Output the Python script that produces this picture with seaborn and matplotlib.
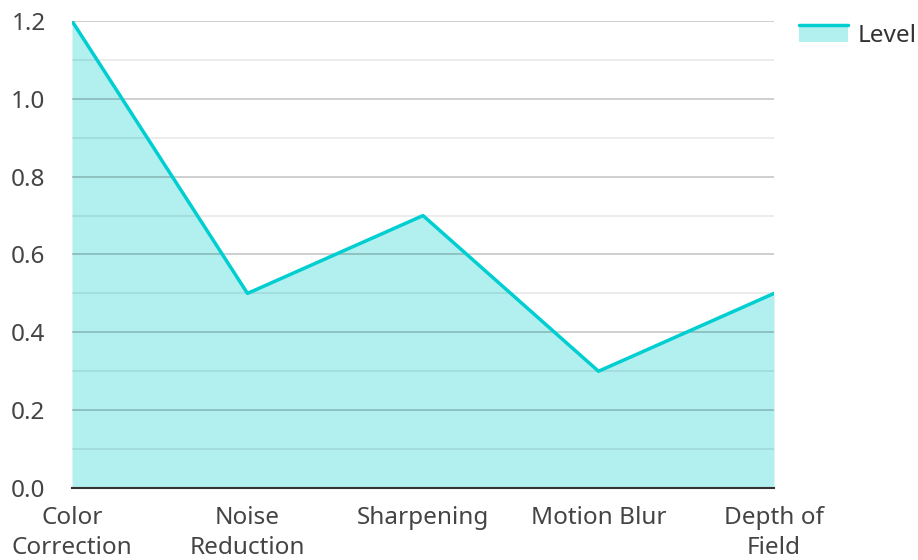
import matplotlib
matplotlib.use("Agg")
import matplotlib.pyplot as plt
import seaborn as sns
import pandas as pd
from matplotlib.legend_handler import HandlerBase
from matplotlib.patches import Rectangle
from matplotlib.lines import Line2D
from matplotlib.ticker import MultipleLocator

categories = ["Color\nCorrection", "Noise\nReduction", "Sharpening", "Motion Blur", "Depth of\nField"]
levels = [1.2, 0.5, 0.7, 0.3, 0.5]
series_name = "Level"

line_color = "#00CED1"
fill_color = "#B2EFEF"

sns.set_style("white")
plt.rcParams['font.family'] = ['Noto Sans', 'DejaVu Sans']

df = pd.DataFrame({"x": range(len(categories)), "y": levels})

fig = plt.figure(figsize=(9.18, 5.6), dpi=100)
ax = fig.add_axes([72/918, 1-488/560, (774-72)/918, (488-21)/560])

ax.fill_between(df["x"], df["y"], 0, color=fill_color, linewidth=0, zorder=1)
sns.lineplot(data=df, x="x", y="y", ax=ax, color=line_color, linewidth=2.5, zorder=3, legend=False)

ax.set_xlim(0, len(categories) - 1)
ax.set_ylim(0, 1.2)
ax.yaxis.set_major_locator(MultipleLocator(0.2))
ax.yaxis.set_minor_locator(MultipleLocator(0.1))
ax.set_axisbelow(False)
ax.grid(which="major", axis="y", color="black", alpha=0.22, linewidth=1.2)
ax.grid(which="minor", axis="y", color="black", alpha=0.09, linewidth=1.2)

ax.set_xticks(range(len(categories)))
ax.set_xticklabels(categories, linespacing=1.33)
ax.set_yticklabels([f"{v:.1f}" for v in ax.get_yticks()])
ax.tick_params(axis="x", length=0, pad=13, labelsize=17.5, labelcolor="#444444")
ax.tick_params(axis="y", which="both", length=0, pad=19, labelsize=17.5, labelcolor="#444444")
ax.set_xlabel("")
ax.set_ylabel("")
for s in ["top", "right", "left"]:
    ax.spines[s].set_visible(False)
ax.spines["bottom"].set_color("#333333")
ax.spines["bottom"].set_linewidth(1.5)
ax.spines["bottom"].set_zorder(4)


class AreaHandler(HandlerBase):
    def create_artists(self, legend, orig_handle, xdescent, ydescent, width, height, fontsize, trans):
        r = Rectangle((-xdescent, -ydescent), width, height, facecolor=fill_color, edgecolor="none", transform=trans)
        l = Line2D([-xdescent, -xdescent + width], [-ydescent + height, -ydescent + height], color=line_color, linewidth=2.5, transform=trans)
        return [r, l]


handle = Rectangle((0, 0), 1, 1)
fig.legend([handle], [series_name], handler_map={Rectangle: AreaHandler()},
           loc="upper left", bbox_to_anchor=(799/918, 1-24/560), frameon=False,
           borderpad=0, borderaxespad=0,
           fontsize=17.5, handlelength=2.0, handleheight=0.65, handletextpad=0.4,
           labelcolor="#333333")

fig.savefig("out.png", dpi=100)
